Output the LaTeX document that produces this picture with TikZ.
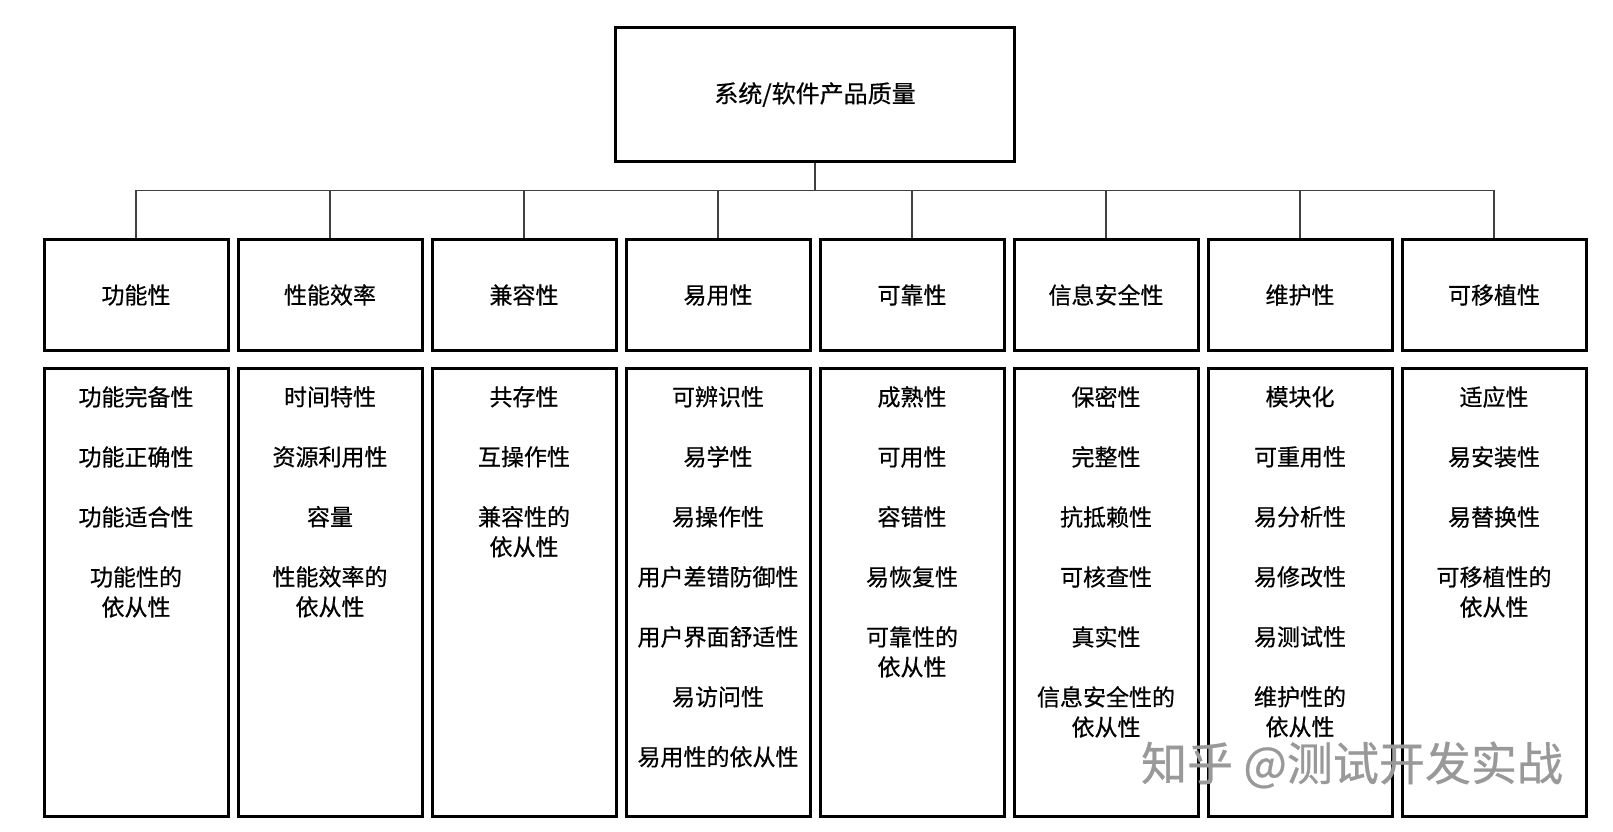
\documentclass[tikz,border=0pt]{standalone}
\usepackage{fontspec}
\newfontfamily\cjk{Noto Sans CJK SC}[FakeBold=0.6]
\newcommand\sep{\\[30pt]}

\begin{document}
\begin{tikzpicture}[
            x=1pt, y=1pt,
            box/.style={draw=black, line width=3pt, inner sep=0pt, font=\cjk\fontsize{23}{30}\selectfont},
            topbox/.style={box, minimum width=399pt, minimum height=134pt, font=\cjk\fontsize{24}{30}\selectfont},
            catbox/.style={box, minimum width=184pt, minimum height=111pt},
            subbox/.style={box, minimum width=184pt, minimum height=448pt},
            items/.style={align=center, inner sep=0pt, anchor=north, text=black, font=\cjk\fontsize{23}{30}\selectfont},
            watermark/.style={text=black!40, font=\cjk\fontsize{46}{50}\selectfont},
            level 1/.style={sibling distance=194pt, level distance=200.5pt},
            level 2/.style={level distance=297.5pt, edge from parent/.style={draw=none}},
            edge from parent/.style={draw=black!75, line width=1.5pt},
            edge from parent path={(\tikzparentnode.south) -- ++(0,-27.5) -| (\tikzchildnode.north)},
        ]
        \useasboundingbox (0,0) rectangle (1613,831);
        \node[topbox] (root) at (815,736.5) {系统/软件产品质量}
        child {node[catbox] (c1) {功能性}
            child {node[subbox] (s1) {}}
        }
        child {node[catbox] (c2) {性能效率}
            child {node[subbox] (s2) {}}
        }
        child {node[catbox] (c3) {兼容性}
            child {node[subbox] (s3) {}}
        }
        child {node[catbox] (c4) {易用性}
            child {node[subbox] (s4) {}}
        }
        child {node[catbox] (c5) {可靠性}
            child {node[subbox] (s5) {}}
        }
        child {node[catbox] (c6) {信息安全性}
            child {node[subbox] (s6) {}}
        }
        child {node[catbox] (c7) {维护性}
            child {node[subbox] (s7) {}}
        }
        child {node[catbox] (c8) {可移植性}
            child {node[subbox] (s8) {}}
        };
        % sub-characteristics, top aligned in each column
        \foreach \i/\list in {
            1/{功能完备性\sep 功能正确性\sep 功能适合性\sep 功能性的\\依从性},
            2/{时间特性\sep 资源利用性\sep 容量\sep 性能效率的\\依从性},
            3/{共存性\sep 互操作性\sep 兼容性的\\依从性},
            4/{可辨识性\sep 易学性\sep 易操作性\sep 用户差错防御性\sep 用户界面舒适性\sep 易访问性\sep 易用性的依从性},
            5/{成熟性\sep 可用性\sep 容错性\sep 易恢复性\sep 可靠性的\\依从性},
            6/{保密性\sep 完整性\sep 抗抵赖性\sep 可核查性\sep 真实性\sep 信息安全性的\\依从性},
            7/{模块化\sep 可重用性\sep 易分析性\sep 易修改性\sep 易测试性\sep 维护性的\\依从性},
            8/{适应性\sep 易安装性\sep 易替换性\sep 可移植性的\\依从性}}
            \node[items] (t\i) at ([yshift=-19pt]s\i.north) {\list};
        \node[watermark] (mark) at (1352,66) {知乎 @测试开发实战};
\end{tikzpicture}
\end{document}
